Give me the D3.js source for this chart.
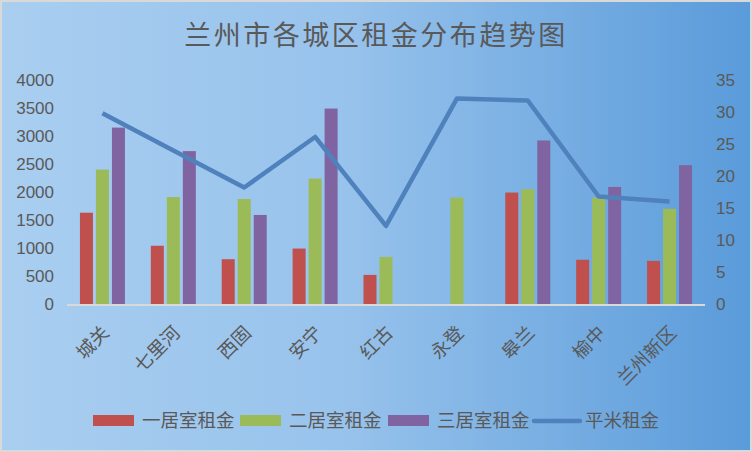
<!DOCTYPE html>
<html>
<head>
<meta charset="utf-8">
<script src="https://cdn.jsdelivr.net/npm/d3@7"></script>
<style>
  html, body { margin: 0; padding: 0; background: #d9d9d9; }
  svg { display: block; }
  text { font-family: "Noto Sans CJK SC", "Liberation Sans", sans-serif; fill: #595959; }
</style>
</head>
<body>
<svg id="chart" width="752" height="452"></svg>
<script>
const categories = ["城关", "七里河", "西固", "安宁", "红古", "永登", "皋兰", "榆中", "兰州新区"];
const oneRoom = [1630, 1040, 800, 990, 520, 0, 1990, 790, 770];
const twoRoom = [2400, 1910, 1875, 2240, 840, 1900, 2050, 1900, 1700];
const threeRoom = [3150, 2730, 1590, 3490, 0, 0, 2920, 2090, 2480];
const perSqm = [29.8, 24.0, 18.2, 26.1, 12.2, 32.1, 31.8, 16.8, 16.0];
const leftTicks = [0, 500, 1000, 1500, 2000, 2500, 3000, 3500, 4000];
const rightTicks = [0, 5, 10, 15, 20, 25, 30, 35];

const seriesNames = ["一居室租金", "二居室租金", "三居室租金", "平米租金"];
const colors = ["#c0504d", "#9bbb59", "#8064a2", "#4f81bd"];

const svg = d3.select("#chart");
const W = 752, H = 452;

// background gradient
const defs = svg.append("defs");
const grad = defs.append("linearGradient").attr("id", "bg")
  .attr("x1", "0").attr("y1", "0").attr("x2", "1").attr("y2", "0");
grad.append("stop").attr("offset", "0%").attr("stop-color", "#a9cef0");
grad.append("stop").attr("offset", "45%").attr("stop-color", "#98c3ec");
grad.append("stop").attr("offset", "100%").attr("stop-color", "#5a9bda");

svg.append("rect").attr("width", W).attr("height", H).attr("fill", "#d9d9d9");
svg.append("rect").attr("x", 2).attr("y", 2).attr("width", W - 4).attr("height", H - 4)
  .attr("fill", "url(#bg)");

const x0 = 67, x1 = 705, yTop = 80, yBase = 304;

const x = d3.scaleBand().domain(categories).range([x0, x1]);
const yL = d3.scaleLinear().domain([0, 4000]).range([yBase, yTop]);
const yR = d3.scaleLinear().domain([0, 35]).range([yBase, yTop]);

const barW = 13, barGap = 3;
const barSeries = [oneRoom, twoRoom, threeRoom];

// title
svg.append("text")
  .attr("x", 376).attr("y", 45)
  .attr("text-anchor", "middle")
  .attr("font-size", 27)
  .attr("letter-spacing", 2.5)
  .text("兰州市各城区租金分布趋势图");

// left axis labels
svg.append("g").selectAll("text")
  .data(leftTicks).enter().append("text")
  .attr("x", 54).attr("y", d => yL(d))
  .attr("dy", "0.35em")
  .attr("text-anchor", "end")
  .attr("font-size", 17)
  .style("font-family", "'Liberation Sans', sans-serif")
  .text(d => d);

// right axis labels
svg.append("g").selectAll("text")
  .data(rightTicks).enter().append("text")
  .attr("x", 716).attr("y", d => yR(d))
  .attr("dy", "0.35em")
  .attr("text-anchor", "start")
  .attr("font-size", 17)
  .style("font-family", "'Liberation Sans', sans-serif")
  .text(d => d);

// bars
barSeries.forEach((vals, s) => {
  svg.append("g").selectAll("rect")
    .data(vals.map((v, i) => ({ c: categories[i], v })).filter(d => d.v > 0))
    .enter().append("rect")
    .attr("x", d => x(d.c) + x.bandwidth() / 2 + (s - 1) * (barW + barGap) - barW / 2)
    .attr("y", d => yL(d.v))
    .attr("width", barW)
    .attr("height", d => yBase - yL(d.v))
    .attr("fill", colors[s]);
});

// baseline
svg.append("line")
  .attr("x1", x0).attr("x2", x1)
  .attr("y1", yBase + 1).attr("y2", yBase + 1)
  .attr("stroke", "#d9d9d9").attr("stroke-width", 2);

// line series
const line = d3.line()
  .x((d, i) => x(categories[i]) + x.bandwidth() / 2)
  .y(d => yR(d));
svg.append("path")
  .datum(perSqm)
  .attr("d", line)
  .attr("fill", "none")
  .attr("stroke", colors[3])
  .attr("stroke-width", 4.5)
  .attr("stroke-linejoin", "round");

// category labels
svg.append("g").selectAll("text")
  .data(categories).enter().append("text")
  .attr("transform", d => `translate(${x(d) + x.bandwidth() / 2 + 8},${334}) rotate(-45)`)
  .attr("text-anchor", "end")
  .attr("font-size", 18.5)
  .text(d => d);

// legend
const legendItems = [
  { name: seriesNames[0], color: colors[0], sx: 93, tx: 142, type: "rect" },
  { name: seriesNames[1], color: colors[1], sx: 240, tx: 289, type: "rect" },
  { name: seriesNames[2], color: colors[2], sx: 388, tx: 437, type: "rect" },
  { name: seriesNames[3], color: colors[3], sx: 534, tx: 585, type: "line" }
];
const lg = svg.append("g");
legendItems.forEach(d => {
  if (d.type === "rect") {
    lg.append("rect").attr("x", d.sx).attr("y", 415).attr("width", 41).attr("height", 11)
      .attr("fill", d.color);
  } else {
    lg.append("line").attr("x1", d.sx).attr("x2", d.sx + 46)
      .attr("y1", 421).attr("y2", 421)
      .attr("stroke", d.color).attr("stroke-width", 4.5).attr("stroke-linecap", "round");
  }
  lg.append("text").attr("x", d.tx).attr("y", 421).attr("dy", "0.35em")
    .attr("font-size", 18.5).text(d.name);
});
</script>
</body>
</html>
